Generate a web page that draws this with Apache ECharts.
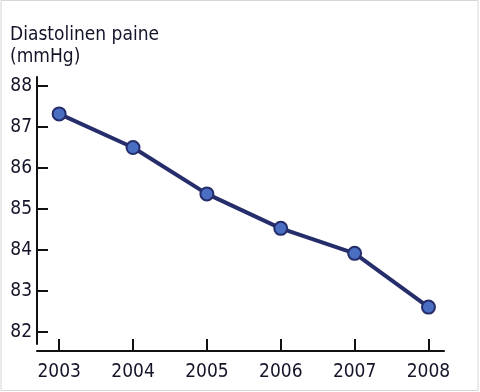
<!DOCTYPE html>
<html>
<head>
<meta charset="utf-8">
<style>html,body{margin:0;padding:0;background:#fff;}#c{width:480px;height:392px;}</style>
<script src="https://cdn.jsdelivr.net/npm/echarts@6/dist/echarts.min.js"></script>
</head>
<body>
<div id="c"></div>
<script>
const years = [2003, 2004, 2005, 2006, 2007, 2008];
const diastolic = [87.32, 86.5, 85.37, 84.53, 83.92, 82.61];
const yTicks = [82, 83, 84, 85, 86, 87, 88];
const titleText = 'Diastolinen paine\n(mmHg)';

const FONT = '"Liberation Sans Narrow", "Arial Narrow", "DejaVu Sans Condensed", "Roboto Condensed", Roboto, sans-serif';
const TXT = '#15152a';
const chart = echarts.init(document.getElementById('c'), null, {renderer: 'canvas'});
chart.setOption({
  animation: false,
  backgroundColor: '#fff',
  title: {
    text: titleText, left: 5, top: 19,
    textStyle: {fontFamily: FONT, fontSize: 19, fontWeight: 'normal', color: TXT, lineHeight: 22}
  },
  graphic: [{
    type: 'rect', shape: {x: 1, y: 0.5, width: 477, height: 390},
    style: {fill: 'none', stroke: '#d6d6d6', lineWidth: 1}, silent: true
  }],
  grid: {left: 37, right: 36, top: 77, bottom: 48},
  xAxis: {
    type: 'value', min: 2002.70, max: 2008.21, offset: 7,
    splitLine: {show: false},
    axisLine: {show: true, lineStyle: {color: '#111', width: 2}},
    axisTick: {show: true, inside: true, length: 12, lineStyle: {color: '#111', width: 2}, customValues: years},
    axisLabel: {customValues: years, margin: 12, fontFamily: FONT, fontSize: 19, color: TXT, formatter: v => String(v)}
  },
  yAxis: {
    type: 'value', min: 81.71, max: 88.22,
    splitLine: {show: false},
    axisLine: {show: true, lineStyle: {color: '#111', width: 2}},
    axisTick: {show: true, inside: true, length: 11, lineStyle: {color: '#111', width: 2}, customValues: yTicks},
    axisLabel: {customValues: yTicks, margin: 5, fontFamily: FONT, fontSize: 19, color: TXT}
  },
  series: [{
    type: 'line',
    data: years.map((y, i) => [y, diastolic[i]]),
    symbol: 'circle', symbolSize: 13,
    lineStyle: {color: '#262d6b', width: 4},
    itemStyle: {color: '#4a6fc2', borderColor: '#262d6b', borderWidth: 2}
  }]
});
</script>
</body>
</html>
